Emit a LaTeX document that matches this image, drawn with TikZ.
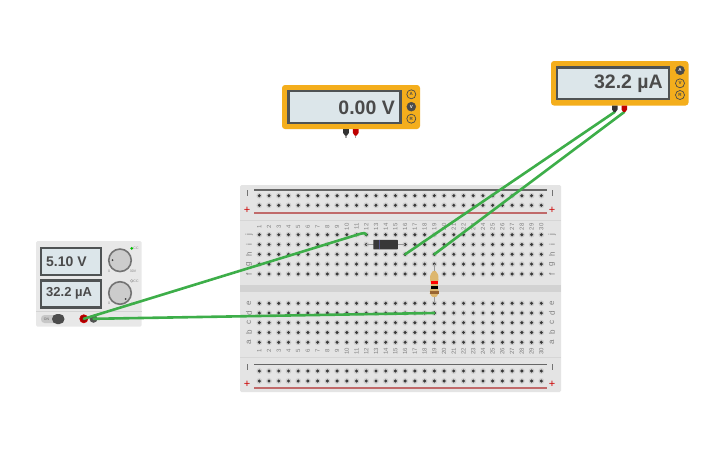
\documentclass[tikz,border=0pt]{standalone}
\usepackage{fontspec}
\setmainfont{Liberation Sans}
\definecolor{board}{HTML}{E4E4E4}
\definecolor{chan}{HTML}{D2D2D2}
\definecolor{sep}{HTML}{D6D6D6}
\definecolor{hole}{HTML}{3A3A3A}
\definecolor{halo}{HTML}{CFCFCF}
\definecolor{wire}{HTML}{3DAE49}
\definecolor{meter}{HTML}{F4AE1C}
\definecolor{lcd}{HTML}{DCE6EA}
\definecolor{lcdb}{HTML}{4F5354}
\definecolor{txt}{HTML}{4A4A4A}
\definecolor{rail}{HTML}{C06A6A}
\definecolor{tan}{HTML}{DDB76E}
\tikzset{
 x=1pt,y=-1pt,
 wirestyle/.style={draw=wire,line width=2.6pt,line cap=round,line join=round},
 lcdbox/.style={draw=lcdb,line width=2.2pt,fill=lcd,inner sep=0pt,anchor=north west},
 metercase/.style={fill=meter,rounded corners=3pt},
 readout/.style={font=\bfseries\fontsize{19.5}{20}\selectfont,text=txt,anchor=east,inner sep=0pt},
 psuread/.style={font=\fontsize{14}{15}\selectfont\bfseries,text=txt,anchor=west,inner sep=0pt},
 modeoff/.style={circle,draw=txt,line width=.7pt,minimum size=9pt,inner sep=0pt,font=\bfseries\fontsize{4.5}{5}\selectfont,text=txt},
 modeon/.style={circle,fill=txt,draw=txt,minimum size=9pt,inner sep=0pt,font=\bfseries\fontsize{4.5}{5}\selectfont,text=white},
 holemark/.style={circle,fill=hole,inner sep=0pt,minimum size=3.4pt},
 numlab/.style={font=\fontsize{6}{6}\selectfont,text=txt!70,rotate=90,inner sep=0pt},
 letlab/.style={font=\fontsize{8}{8}\selectfont,text=txt!70,rotate=90,inner sep=0pt},
 sign/.style={font=\fontsize{11}{11}\selectfont,inner sep=0pt},
 knob/.style={circle,draw=black!55,line width=1.6pt,fill=black!20,minimum size=22.5pt,inner sep=0pt},
 tiny/.style={font=\fontsize{3.5}{4}\selectfont,text=gray,inner sep=0pt},
}
\begin{document}
\begin{tikzpicture}
\useasboundingbox (0,0) rectangle (725,453);
\fill[white] (0,0) rectangle (725,453);
% breadboard
\fill[board,rounded corners=1.5pt] (240,185) rectangle (561,392);
\fill[chan] (240,285) rectangle (561,292);
\draw[sep,line width=.8pt] (240,220.5) -- (561,220.5);
\draw[sep,line width=.8pt] (240,357.5) -- (561,357.5);
\draw[black!60,line width=1.6pt] (254,190) -- (547,190);
\draw[rail,line width=1.6pt] (254,212.7) -- (547,212.7);
\draw[black!60,line width=1.6pt] (254,364.5) -- (547,364.5);
\draw[rail,line width=1.6pt] (254,387.7) -- (547,387.7);
\foreach \x/\y in {247.7/192.7,552/192.7,247.7/366.7,552/366.7}
  \fill[black!55] (\x-.5,\y-2.8) rectangle (\x+.5,\y+2.8);
\foreach \x/\y in {247/210.7,552/210.7,247/384.3,552/384.3}
  \node[sign,text=red!80!black] at (\x,\y) {+};
\foreach \y in {195.7,205.3,234.7,244.5,254.3,264.1,274,303.3,313,322.7,332.5,342.3,371,381}{
  \foreach \c in {1,...,30}{
    \pgfmathsetmacro{\xx}{259.3+(\c-1)*9.724}
    \fill[halo] (\xx,\y) circle (2.9);
    \fill[hole] (\xx,\y) circle (1.7);
  }
}
\foreach \c in {1,...,30}{
  \pgfmathsetmacro{\xx}{259.3+(\c-1)*9.724}
  \node[numlab] at (\xx,226.7) {\c};
  \node[numlab] at (\xx,351) {\c};
}
\foreach \l/\y in {j/234.7,i/244.5,h/254.3,g/264.1,f/274,e/303.3,d/313,c/322.7,b/332.5,a/342.3}{
  \node[letlab] at (249,\y) {\l};
  \node[letlab] at (552,\y) {\l};
}
% named holes
\node[holemark] (j12) at (366.3,234.7) {};
\node[holemark] (h16) at (405.2,254.3) {};
\node[holemark] (h19) at (434.3,254.3) {};
\node[holemark] (d19) at (434.3,313) {};
% diode
\coordinate (diodeL) at (366.3,244.5);
\coordinate (diodeR) at (405.2,244.5);
\draw[gray!80,line width=1.5pt] (diodeL) -- (diodeR);
\node[fill=black!78,minimum width=24.5pt,minimum height=9.5pt,inner sep=0pt,rounded corners=.5pt] (diode) at (385.5,244.6) {};
\fill[black!45!blue!35!gray] (378.5,240) rectangle (380.3,249.3);
% resistor
\draw[gray!80,line width=1.5pt] (434.3,263.5) -- (434.3,303);
\fill[tan,rounded corners=2pt] (434.3,270) -- (437,272) -- (439,278) -- (437.8,281) -- (437.8,290) -- (439,292) -- (438.5,295) -- (434.3,298) -- (430,295) -- (429.5,292) -- (430.8,290) -- (430.8,281) -- (429.5,278) -- (431.5,272) -- cycle;
\fill[red] (430.8,280.7) rectangle (437.8,283.6);
\fill[black] (430.8,285.5) rectangle (437.8,288.6);
\fill[brown!80!black] (430,291) rectangle (438.6,293.8);
% voltmeter
\fill[metercase] (282,85) rectangle (420,129) ;
\node[lcdbox,minimum width=112pt,minimum height=31.5pt] (vlcd) at (287.3,90) {};
\node[readout] at (395,107.5) {0.00 V};
\node[modeoff] (va) at (411.3,94.3) {A};
\node[modeon] (vv) at (411.3,106.7) {V};
\node[modeoff] (vr) at (411.3,118.7) {R};
\draw[gray!70,line width=1.4pt] (346,133) -- (346,138) (355.7,133) -- (355.7,138);
\fill[black!80] (343.2,129) -- (348.8,129) -- (348.8,133) -- (347,135.5) -- (345,135.5) -- (343.2,133) -- cycle;
\fill[red!75!black] (352.9,129) -- (358.5,129) -- (358.5,133) -- (356.7,135.5) -- (354.7,135.5) -- (352.9,133) -- cycle;
% ammeter
\fill[metercase] (551,61) rectangle (688.5,105.5);
\node[lcdbox,minimum width=112pt,minimum height=31.5pt] (alcd) at (556,66.3) {};
\node[readout] at (663,84) {32.2 µA};
\node[modeon] (aa) at (680,70.3) {A};
\node[modeoff] (av) at (680,83.3) {V};
\node[modeoff] (ar) at (680,95) {R};
\coordinate (ablk) at (614.7,112);
\coordinate (ared) at (624.3,112);
% power supply
\fill[black!9,rounded corners=1.5pt] (36,241) rectangle (141.7,326.7);
\draw[black!17,line width=.7pt] (36,311) -- (141.7,311);
\node[lcdbox,minimum width=60pt,minimum height=27pt] (psuv) at (40,247) {};
\node[lcdbox,minimum width=60pt,minimum height=27pt] (psui) at (40,279.3) {};
\node[psuread] at (46,261.5) {5.10 V};
\node[psuread,font=\fontsize{13}{14}\selectfont\bfseries] at (46,293.7) {32.2 µA};
\node[knob] (k1) at (120,260.3) {};
\node[knob] (k2) at (120,293) {};
\fill[black!75] (112.5,260) circle (1);
\fill[black!75] (125.7,299) circle (1);
\fill[green!75!black] (131.7,248.3) circle (1.5);
\draw[gray!70,line width=.5pt] (131.7,280.8) circle (1.4);
\node[tiny] at (136,248.3) {CC};
\node[tiny] at (136,280.8) {CC};
\node[tiny] at (109,271.7) {0};
\node[tiny] at (133,271.7) {30V};
\node[tiny] at (109,303.3) {0};
\node[tiny] at (133,304.5) {5A};
\fill[black!22,rounded corners=3.5pt] (41,315) rectangle (64,323);
\node[tiny,text=black!60] at (46.5,319) {ON};
\fill[black!70,rounded corners=5pt] (52,314) rectangle (64.5,324);
\node[circle,fill=red!65!black,draw=red!80!black,line width=.8pt,minimum size=8pt,inner sep=0pt] (pos) at (83.8,318.8) {};
\node[circle,fill=black!68,minimum size=8pt,inner sep=0pt] (neg) at (93.5,318.8) {};
\node[tiny,text=black!25] at (121,319) {OUT +};
% wires
\draw[wirestyle] (pos.center) -- (361,233.6) .. controls (364,232.6) and (365.5,233) .. (j12.center);
\draw[wirestyle] (neg.center) -- (d19.center);
\draw[wirestyle] (ablk) -- (h16.center);
\draw[wirestyle] (ared) -- (h19.center);
% ammeter probes over wires
\fill[black!80] (612,105.5) -- (617.6,105.5) -- (617.6,109.5) -- (615.7,112) -- (613.7,112) -- (612,109.5) -- cycle;
\fill[red!75!black] (621.5,105.5) -- (627.1,105.5) -- (627.1,109.5) -- (625.3,112) -- (623.3,112) -- (621.5,109.5) -- cycle;
\end{tikzpicture}
\end{document}
